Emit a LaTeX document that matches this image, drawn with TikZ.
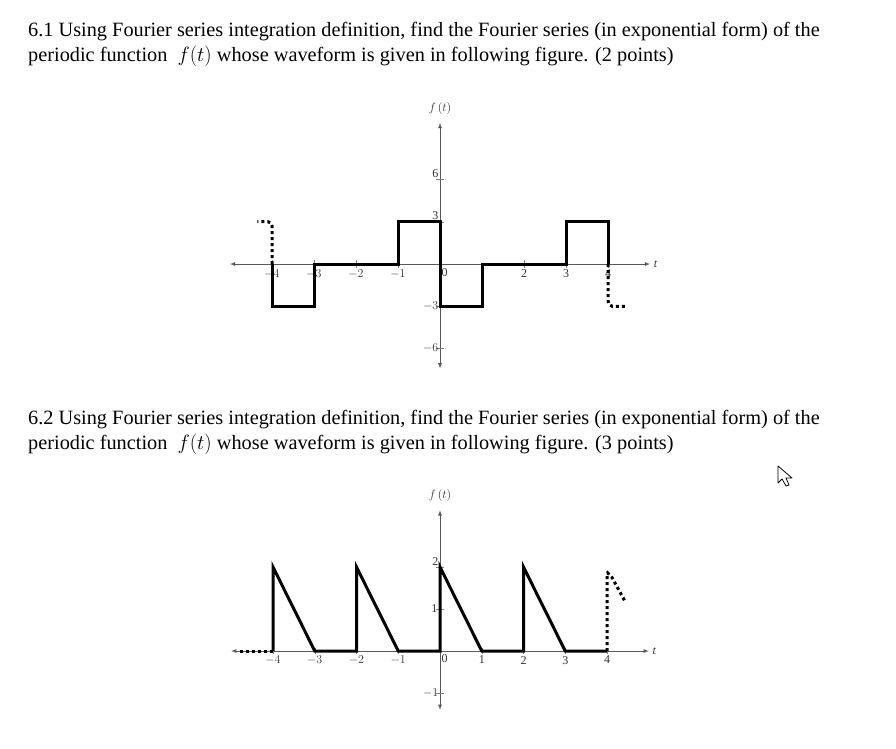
\documentclass[tikz,border=0pt]{standalone}
\usepackage{fontspec}
\setmainfont{Liberation Serif}
\begin{document}
\begin{tikzpicture}[x=1pt,y=-1pt,
 txt/.style={anchor=base west,inner sep=0pt,font=\fontsize{20.3}{24}\selectfont},
 ax/.style={gray!70!black,line width=0.8pt,-latex},
 sig/.style={line width=3pt,line join=miter},
 dot/.style={line width=3pt,dash pattern=on 3pt off 3pt},
 lab/.style={font=\fontsize{12}{14}\selectfont,inner sep=1.5pt,text=black!80}]
\useasboundingbox (0,0) rectangle (896,748);
\fill[white] (0,0) rectangle (896,748);
\node[txt] (t1) at (28,36) {6.1 Using Fourier series integration definition, find the Fourier series (in exponential form) of the};
\node[txt] (t2) at (28,61) {periodic function \ $f(t)$ whose waveform is given in following figure. (2 points)};
\node[txt] (t3) at (28,424) {6.2 Using Fourier series integration definition, find the Fourier series (in exponential form) of the};
\node[txt] (t4) at (28,449) {periodic function \ $f(t)$ whose waveform is given in following figure. (3 points)};
% graph 1
\begin{scope}[shift={(440,264)},x=42pt,y=14.1pt]
\draw[ax] (0,0) -- (5.0,0); \draw[ax] (0,0) -- (-5.0,0);
\draw[ax] (0,0) -- (0,10); \draw[ax] (0,0) -- (0,-7.4);
\node[lab] (f1) at (0,11) {$f\,(t)$};
\node[lab,anchor=west] at (5.05,0) {\textit{t}};
\foreach \x in {-4,-3,-2,-1,2,3,4} \draw[gray] (\x,0.25)--(\x,-0.25);
\foreach \y in {6,3,-3,-6} \draw[gray] (-0.1,\y)--(0.1,\y);
\foreach \x/\l in {-4/$-4$,-3/$-3$,-2/$-2$,-1/$-1$,2/2,3/3,4/4} \node[lab,below] at (\x,-0.3) {\l};
\node[lab,below right] at (0,-0.2) {0};
\node[lab,above left] at (0,3) {3}; \node[lab,above left] at (0,6) {6};
\node[lab,left] at (0,-3) {$-3$}; \node[lab,left] at (0,-6) {$-6$};
\draw[sig] (-4,0)--(-4,-3)--(-3,-3)--(-3,0)--(-1,0)--(-1,3)--(0,3)--(0,-3)--(1,-3)--(1,0)--(3,0)--(3,3)--(4,3)--(4,0);
\draw[dot] (-4,0)--(-4,2.7) to[out=90,in=0] (-4.1,3) -- (-4.35,3);
\draw[dot] (4,0)--(4,-2.6) to[out=-90,in=180] (4.1,-3) -- (4.4,-3);
\end{scope}
% graph 2
\begin{scope}[shift={(440,651)},x=41.75pt,y=42pt]
\draw[ax] (0,0) -- (5.0,0); \draw[ax] (0,0) -- (-5.0,0);
\draw[ax] (0,0) -- (0,3.35); \draw[ax] (0,0) -- (0,-1.4);
\node[lab] (f2) at (0,3.7) {$f\,(t)$};
\node[lab,anchor=west] at (5.05,0) {\textit{t}};
\foreach \x in {-4,-3,-2,-1,1,2,3,4} \draw[gray] (\x,0.07)--(\x,-0.07);
\foreach \y in {2,1,-1} \draw[gray] (-0.1,\y)--(0.1,\y);
\foreach \x/\l in {-4/$-4$,-3/$-3$,-2/$-2$,-1/$-1$,1/1,2/2,3/3,4/4} \node[lab,below] at (\x,-0.08) {\l};
\node[lab,below right] at (0,-0.05) {0};
\node[lab,above left] at (0,2) {2}; \node[lab,left] at (-0.02,1) {1};
\node[lab,left] at (0,-1) {$-1$};
\draw[sig] (-4,0)--(-4,2)--(-3,0)--(-2,0)--(-2,2)--(-1,0)--(0,0)--(0,2)--(1,0)--(2,0)--(2,2)--(3,0)--(4,0);
\draw[dot] (-4,0)--(-4.8,0);
\draw[dot] (4,0)--(4,1.85) to[out=90,in=150] (4.12,1.75) -- (4.45,1.15);
\end{scope}
% cursor
\draw[black,line width=0.8pt,fill=white,line join=round] (778,466)--(778,483)--(782,479)--(786,486)--(789,485)--(786,478)--(792,478)--cycle;
\end{tikzpicture}
\end{document}
